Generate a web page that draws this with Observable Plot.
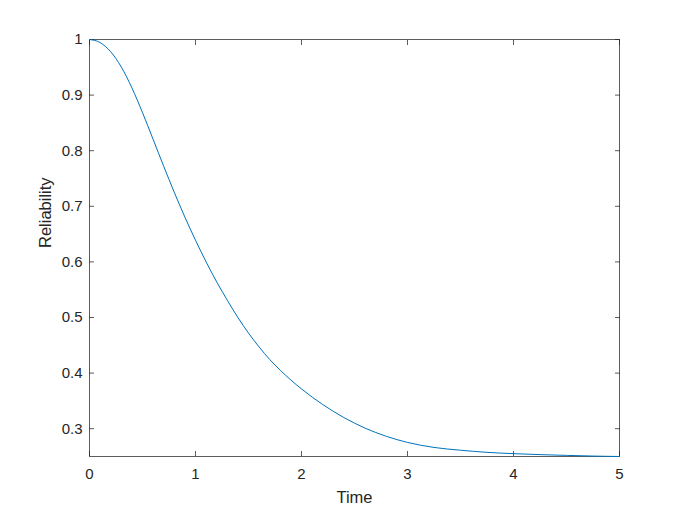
<!DOCTYPE html>
<html>
<head>
<meta charset="utf-8">
<script src="https://cdn.jsdelivr.net/npm/d3@7"></script>
<script src="https://cdn.jsdelivr.net/npm/@observablehq/plot@0.6"></script>
<style>
  html, body { margin: 0; padding: 0; background: #fff; }
  #chart svg { display: block; }
</style>
</head>
<body>
<div id="chart"></div>
<script>
const time = [0, 0.1, 0.2, 0.3, 0.4, 0.5, 0.6, 0.7, 0.8, 0.9, 1.0, 1.1, 1.2, 1.3, 1.4, 1.5, 1.6, 1.7, 1.8, 1.9, 2.0, 2.2, 2.4, 2.6, 2.8, 3.0, 3.25, 3.5, 3.75, 4.0, 4.25, 4.5, 4.75, 5.0];
const reliability = [1, 0.9945, 0.978, 0.9505, 0.913, 0.8685, 0.8205, 0.772, 0.725, 0.6805, 0.639, 0.600, 0.564, 0.531, 0.500, 0.472, 0.447, 0.4245, 0.405, 0.3875, 0.3715, 0.3435, 0.320, 0.301, 0.2863, 0.2753, 0.2663, 0.2613, 0.2575, 0.2551, 0.2534, 0.252, 0.2508, 0.25];
const xTicks = [0, 1, 2, 3, 4, 5];
const yTicks = [0.3, 0.4, 0.5, 0.6, 0.7, 0.8, 0.9, 1];
const xLabel = "Time";
const yLabel = "Reliability";

const data = time.map((t, i) => ({t, r: reliability[i]}));
const axisColor = "#262626";
const font = "Liberation Sans, Arial, Helvetica, sans-serif";

const chart = Plot.plot({
  width: 685,
  height: 513,
  marginLeft: 89,
  marginRight: 66,
  marginTop: 39,
  marginBottom: 57,
  style: {fontFamily: font, fontSize: "15px", color: axisColor, background: "#fff"},
  x: {domain: [0, 5]},
  y: {domain: [0.25, 1]},
  marks: [
    Plot.frame({stroke: axisColor, strokeOpacity: 0.75}),
    Plot.axisX({anchor: "bottom", ticks: xTicks, tickSize: -5, tickPadding: 17, tickFormat: d => String(d), label: null, stroke: axisColor, strokeOpacity: 0.75, fill: axisColor, fontSize: 15}),
    Plot.axisX({anchor: "top", ticks: xTicks, tickSize: -5, tickFormat: () => "", label: null, stroke: axisColor, strokeOpacity: 0.75}),
    Plot.axisY({anchor: "left", ticks: yTicks, tickSize: -5, tickPadding: 12, tickFormat: d => String(d), label: null, stroke: axisColor, strokeOpacity: 0.75, fill: axisColor, fontSize: 15}),
    Plot.axisY({anchor: "right", ticks: yTicks, tickSize: -5, tickFormat: () => "", label: null, stroke: axisColor, strokeOpacity: 0.75}),
    Plot.line(data, {x: "t", y: "r", stroke: "#0072BD", strokeWidth: 1, curve: "monotone-x"}),
    Plot.text([xLabel], {frameAnchor: "bottom", dy: 41, fill: axisColor, fontSize: 16.5, lineAnchor: "middle"}),
    Plot.text([yLabel], {frameAnchor: "left", dx: -44, rotate: -90, fill: axisColor, fontSize: 16.5, lineAnchor: "middle"})
  ]
});
document.getElementById("chart").appendChild(chart);
</script>
</body>
</html>
